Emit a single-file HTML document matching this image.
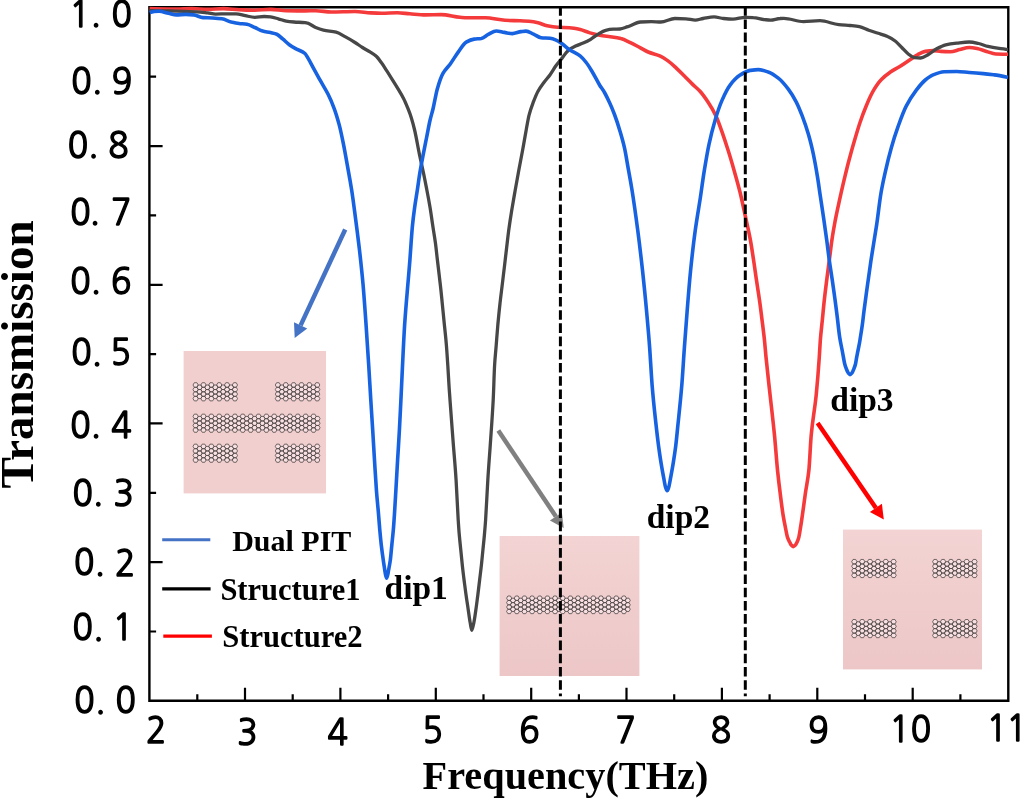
<!DOCTYPE html>
<html><head><meta charset="utf-8"><title>Transmission spectra</title>
<style>
html,body{margin:0;padding:0;background:#fff;}
body{width:1020px;height:798px;overflow:hidden;}
svg{display:block;}
.tl{font-family:"NanumGothic","Liberation Sans",sans-serif;font-size:36.4px;fill:#000;stroke:#000;stroke-width:1.5px;stroke-linejoin:round;}
.at{font-family:"Liberation Serif","Times New Roman",serif;font-weight:bold;font-size:40.3px;fill:#000;}
.at2{font-family:"Liberation Serif","Times New Roman",serif;font-weight:bold;font-size:47px;fill:#000;}
.lg{font-family:"Liberation Serif","Times New Roman",serif;font-weight:bold;font-size:30px;fill:#000;}
.dp{font-family:"Liberation Serif","Times New Roman",serif;font-weight:bold;font-size:33.5px;fill:#000;}
</style></head>
<body><svg width="1020" height="798" viewBox="0 0 1020 798">
<rect width="1020" height="798" fill="#fff"/>
<defs><linearGradient id="pg" x1="0" y1="0" x2="0" y2="1"><stop offset="0" stop-color="#f3d3d3"/><stop offset="1" stop-color="#edc7c7"/></linearGradient></defs>
<rect x="183.6" y="351" width="142.4" height="142.4" fill="#f2cfcf"/>
<rect x="499.6" y="536" width="139.8" height="140" fill="url(#pg)"/>
<rect x="843" y="529.6" width="139" height="139.8" fill="url(#pg)"/>
<path d="M198.24,385.00 196.93,387.27 194.31,387.27 193.00,385.00 194.31,382.73 196.93,382.73ZM198.24,389.54 196.93,391.81 194.31,391.81 193.00,389.54 194.31,387.27 196.93,387.27ZM198.24,394.08 196.93,396.34 194.31,396.34 193.00,394.08 194.31,391.81 196.93,391.81ZM198.24,398.61 196.93,400.88 194.31,400.88 193.00,398.61 194.31,396.34 196.93,396.34ZM206.10,385.00 204.79,387.27 202.17,387.27 200.86,385.00 202.17,382.73 204.79,382.73ZM206.10,389.54 204.79,391.81 202.17,391.81 200.86,389.54 202.17,387.27 204.79,387.27ZM206.10,394.08 204.79,396.34 202.17,396.34 200.86,394.08 202.17,391.81 204.79,391.81ZM206.10,398.61 204.79,400.88 202.17,400.88 200.86,398.61 202.17,396.34 204.79,396.34ZM213.96,385.00 212.65,387.27 210.03,387.27 208.72,385.00 210.03,382.73 212.65,382.73ZM213.96,389.54 212.65,391.81 210.03,391.81 208.72,389.54 210.03,387.27 212.65,387.27ZM213.96,394.08 212.65,396.34 210.03,396.34 208.72,394.08 210.03,391.81 212.65,391.81ZM213.96,398.61 212.65,400.88 210.03,400.88 208.72,398.61 210.03,396.34 212.65,396.34ZM221.82,385.00 220.51,387.27 217.89,387.27 216.58,385.00 217.89,382.73 220.51,382.73ZM221.82,389.54 220.51,391.81 217.89,391.81 216.58,389.54 217.89,387.27 220.51,387.27ZM221.82,394.08 220.51,396.34 217.89,396.34 216.58,394.08 217.89,391.81 220.51,391.81ZM221.82,398.61 220.51,400.88 217.89,400.88 216.58,398.61 217.89,396.34 220.51,396.34ZM229.68,385.00 228.37,387.27 225.75,387.27 224.44,385.00 225.75,382.73 228.37,382.73ZM229.68,389.54 228.37,391.81 225.75,391.81 224.44,389.54 225.75,387.27 228.37,387.27ZM229.68,394.08 228.37,396.34 225.75,396.34 224.44,394.08 225.75,391.81 228.37,391.81ZM229.68,398.61 228.37,400.88 225.75,400.88 224.44,398.61 225.75,396.34 228.37,396.34ZM237.54,385.00 236.23,387.27 233.61,387.27 232.30,385.00 233.61,382.73 236.23,382.73ZM237.54,389.54 236.23,391.81 233.61,391.81 232.30,389.54 233.61,387.27 236.23,387.27ZM237.54,394.08 236.23,396.34 233.61,396.34 232.30,394.08 233.61,391.81 236.23,391.81ZM237.54,398.61 236.23,400.88 233.61,400.88 232.30,398.61 233.61,396.34 236.23,396.34ZM202.17,387.27 200.86,389.54 198.24,389.54 196.93,387.27 198.24,385.00 200.86,385.00ZM202.17,391.81 200.86,394.08 198.24,394.08 196.93,391.81 198.24,389.54 200.86,389.54ZM202.17,396.34 200.86,398.61 198.24,398.61 196.93,396.34 198.24,394.08 200.86,394.08ZM210.03,387.27 208.72,389.54 206.10,389.54 204.79,387.27 206.10,385.00 208.72,385.00ZM210.03,391.81 208.72,394.08 206.10,394.08 204.79,391.81 206.10,389.54 208.72,389.54ZM210.03,396.34 208.72,398.61 206.10,398.61 204.79,396.34 206.10,394.08 208.72,394.08ZM217.89,387.27 216.58,389.54 213.96,389.54 212.65,387.27 213.96,385.00 216.58,385.00ZM217.89,391.81 216.58,394.08 213.96,394.08 212.65,391.81 213.96,389.54 216.58,389.54ZM217.89,396.34 216.58,398.61 213.96,398.61 212.65,396.34 213.96,394.08 216.58,394.08ZM225.75,387.27 224.44,389.54 221.82,389.54 220.51,387.27 221.82,385.00 224.44,385.00ZM225.75,391.81 224.44,394.08 221.82,394.08 220.51,391.81 221.82,389.54 224.44,389.54ZM225.75,396.34 224.44,398.61 221.82,398.61 220.51,396.34 221.82,394.08 224.44,394.08ZM233.61,387.27 232.30,389.54 229.68,389.54 228.37,387.27 229.68,385.00 232.30,385.00ZM233.61,391.81 232.30,394.08 229.68,394.08 228.37,391.81 229.68,389.54 232.30,389.54ZM233.61,396.34 232.30,398.61 229.68,398.61 228.37,396.34 229.68,394.08 232.30,394.08ZM280.54,385.00 279.23,387.27 276.61,387.27 275.30,385.00 276.61,382.73 279.23,382.73ZM280.54,389.54 279.23,391.81 276.61,391.81 275.30,389.54 276.61,387.27 279.23,387.27ZM280.54,394.08 279.23,396.34 276.61,396.34 275.30,394.08 276.61,391.81 279.23,391.81ZM280.54,398.61 279.23,400.88 276.61,400.88 275.30,398.61 276.61,396.34 279.23,396.34ZM288.40,385.00 287.09,387.27 284.47,387.27 283.16,385.00 284.47,382.73 287.09,382.73ZM288.40,389.54 287.09,391.81 284.47,391.81 283.16,389.54 284.47,387.27 287.09,387.27ZM288.40,394.08 287.09,396.34 284.47,396.34 283.16,394.08 284.47,391.81 287.09,391.81ZM288.40,398.61 287.09,400.88 284.47,400.88 283.16,398.61 284.47,396.34 287.09,396.34ZM296.26,385.00 294.95,387.27 292.33,387.27 291.02,385.00 292.33,382.73 294.95,382.73ZM296.26,389.54 294.95,391.81 292.33,391.81 291.02,389.54 292.33,387.27 294.95,387.27ZM296.26,394.08 294.95,396.34 292.33,396.34 291.02,394.08 292.33,391.81 294.95,391.81ZM296.26,398.61 294.95,400.88 292.33,400.88 291.02,398.61 292.33,396.34 294.95,396.34ZM304.12,385.00 302.81,387.27 300.19,387.27 298.88,385.00 300.19,382.73 302.81,382.73ZM304.12,389.54 302.81,391.81 300.19,391.81 298.88,389.54 300.19,387.27 302.81,387.27ZM304.12,394.08 302.81,396.34 300.19,396.34 298.88,394.08 300.19,391.81 302.81,391.81ZM304.12,398.61 302.81,400.88 300.19,400.88 298.88,398.61 300.19,396.34 302.81,396.34ZM311.98,385.00 310.67,387.27 308.05,387.27 306.74,385.00 308.05,382.73 310.67,382.73ZM311.98,389.54 310.67,391.81 308.05,391.81 306.74,389.54 308.05,387.27 310.67,387.27ZM311.98,394.08 310.67,396.34 308.05,396.34 306.74,394.08 308.05,391.81 310.67,391.81ZM311.98,398.61 310.67,400.88 308.05,400.88 306.74,398.61 308.05,396.34 310.67,396.34ZM319.84,385.00 318.53,387.27 315.91,387.27 314.60,385.00 315.91,382.73 318.53,382.73ZM319.84,389.54 318.53,391.81 315.91,391.81 314.60,389.54 315.91,387.27 318.53,387.27ZM319.84,394.08 318.53,396.34 315.91,396.34 314.60,394.08 315.91,391.81 318.53,391.81ZM319.84,398.61 318.53,400.88 315.91,400.88 314.60,398.61 315.91,396.34 318.53,396.34ZM284.47,387.27 283.16,389.54 280.54,389.54 279.23,387.27 280.54,385.00 283.16,385.00ZM284.47,391.81 283.16,394.08 280.54,394.08 279.23,391.81 280.54,389.54 283.16,389.54ZM284.47,396.34 283.16,398.61 280.54,398.61 279.23,396.34 280.54,394.08 283.16,394.08ZM292.33,387.27 291.02,389.54 288.40,389.54 287.09,387.27 288.40,385.00 291.02,385.00ZM292.33,391.81 291.02,394.08 288.40,394.08 287.09,391.81 288.40,389.54 291.02,389.54ZM292.33,396.34 291.02,398.61 288.40,398.61 287.09,396.34 288.40,394.08 291.02,394.08ZM300.19,387.27 298.88,389.54 296.26,389.54 294.95,387.27 296.26,385.00 298.88,385.00ZM300.19,391.81 298.88,394.08 296.26,394.08 294.95,391.81 296.26,389.54 298.88,389.54ZM300.19,396.34 298.88,398.61 296.26,398.61 294.95,396.34 296.26,394.08 298.88,394.08ZM308.05,387.27 306.74,389.54 304.12,389.54 302.81,387.27 304.12,385.00 306.74,385.00ZM308.05,391.81 306.74,394.08 304.12,394.08 302.81,391.81 304.12,389.54 306.74,389.54ZM308.05,396.34 306.74,398.61 304.12,398.61 302.81,396.34 304.12,394.08 306.74,394.08ZM315.91,387.27 314.60,389.54 311.98,389.54 310.67,387.27 311.98,385.00 314.60,385.00ZM315.91,391.81 314.60,394.08 311.98,394.08 310.67,391.81 311.98,389.54 314.60,389.54ZM315.91,396.34 314.60,398.61 311.98,398.61 310.67,396.34 311.98,394.08 314.60,394.08ZM198.24,416.40 196.93,418.67 194.31,418.67 193.00,416.40 194.31,414.13 196.93,414.13ZM198.24,420.94 196.93,423.21 194.31,423.21 193.00,420.94 194.31,418.67 196.93,418.67ZM198.24,425.48 196.93,427.74 194.31,427.74 193.00,425.48 194.31,423.21 196.93,423.21ZM198.24,430.01 196.93,432.28 194.31,432.28 193.00,430.01 194.31,427.74 196.93,427.74ZM206.10,416.40 204.79,418.67 202.17,418.67 200.86,416.40 202.17,414.13 204.79,414.13ZM206.10,420.94 204.79,423.21 202.17,423.21 200.86,420.94 202.17,418.67 204.79,418.67ZM206.10,425.48 204.79,427.74 202.17,427.74 200.86,425.48 202.17,423.21 204.79,423.21ZM206.10,430.01 204.79,432.28 202.17,432.28 200.86,430.01 202.17,427.74 204.79,427.74ZM213.96,416.40 212.65,418.67 210.03,418.67 208.72,416.40 210.03,414.13 212.65,414.13ZM213.96,420.94 212.65,423.21 210.03,423.21 208.72,420.94 210.03,418.67 212.65,418.67ZM213.96,425.48 212.65,427.74 210.03,427.74 208.72,425.48 210.03,423.21 212.65,423.21ZM213.96,430.01 212.65,432.28 210.03,432.28 208.72,430.01 210.03,427.74 212.65,427.74ZM221.82,416.40 220.51,418.67 217.89,418.67 216.58,416.40 217.89,414.13 220.51,414.13ZM221.82,420.94 220.51,423.21 217.89,423.21 216.58,420.94 217.89,418.67 220.51,418.67ZM221.82,425.48 220.51,427.74 217.89,427.74 216.58,425.48 217.89,423.21 220.51,423.21ZM221.82,430.01 220.51,432.28 217.89,432.28 216.58,430.01 217.89,427.74 220.51,427.74ZM229.68,416.40 228.37,418.67 225.75,418.67 224.44,416.40 225.75,414.13 228.37,414.13ZM229.68,420.94 228.37,423.21 225.75,423.21 224.44,420.94 225.75,418.67 228.37,418.67ZM229.68,425.48 228.37,427.74 225.75,427.74 224.44,425.48 225.75,423.21 228.37,423.21ZM229.68,430.01 228.37,432.28 225.75,432.28 224.44,430.01 225.75,427.74 228.37,427.74ZM237.54,416.40 236.23,418.67 233.61,418.67 232.30,416.40 233.61,414.13 236.23,414.13ZM237.54,420.94 236.23,423.21 233.61,423.21 232.30,420.94 233.61,418.67 236.23,418.67ZM237.54,425.48 236.23,427.74 233.61,427.74 232.30,425.48 233.61,423.21 236.23,423.21ZM237.54,430.01 236.23,432.28 233.61,432.28 232.30,430.01 233.61,427.74 236.23,427.74ZM245.40,416.40 244.09,418.67 241.47,418.67 240.16,416.40 241.47,414.13 244.09,414.13ZM245.40,420.94 244.09,423.21 241.47,423.21 240.16,420.94 241.47,418.67 244.09,418.67ZM245.40,425.48 244.09,427.74 241.47,427.74 240.16,425.48 241.47,423.21 244.09,423.21ZM245.40,430.01 244.09,432.28 241.47,432.28 240.16,430.01 241.47,427.74 244.09,427.74ZM253.26,416.40 251.95,418.67 249.33,418.67 248.02,416.40 249.33,414.13 251.95,414.13ZM253.26,420.94 251.95,423.21 249.33,423.21 248.02,420.94 249.33,418.67 251.95,418.67ZM253.26,425.48 251.95,427.74 249.33,427.74 248.02,425.48 249.33,423.21 251.95,423.21ZM253.26,430.01 251.95,432.28 249.33,432.28 248.02,430.01 249.33,427.74 251.95,427.74ZM261.12,416.40 259.81,418.67 257.19,418.67 255.88,416.40 257.19,414.13 259.81,414.13ZM261.12,420.94 259.81,423.21 257.19,423.21 255.88,420.94 257.19,418.67 259.81,418.67ZM261.12,425.48 259.81,427.74 257.19,427.74 255.88,425.48 257.19,423.21 259.81,423.21ZM261.12,430.01 259.81,432.28 257.19,432.28 255.88,430.01 257.19,427.74 259.81,427.74ZM268.98,416.40 267.67,418.67 265.05,418.67 263.74,416.40 265.05,414.13 267.67,414.13ZM268.98,420.94 267.67,423.21 265.05,423.21 263.74,420.94 265.05,418.67 267.67,418.67ZM268.98,425.48 267.67,427.74 265.05,427.74 263.74,425.48 265.05,423.21 267.67,423.21ZM268.98,430.01 267.67,432.28 265.05,432.28 263.74,430.01 265.05,427.74 267.67,427.74ZM276.84,416.40 275.53,418.67 272.91,418.67 271.60,416.40 272.91,414.13 275.53,414.13ZM276.84,420.94 275.53,423.21 272.91,423.21 271.60,420.94 272.91,418.67 275.53,418.67ZM276.84,425.48 275.53,427.74 272.91,427.74 271.60,425.48 272.91,423.21 275.53,423.21ZM276.84,430.01 275.53,432.28 272.91,432.28 271.60,430.01 272.91,427.74 275.53,427.74ZM284.70,416.40 283.39,418.67 280.77,418.67 279.46,416.40 280.77,414.13 283.39,414.13ZM284.70,420.94 283.39,423.21 280.77,423.21 279.46,420.94 280.77,418.67 283.39,418.67ZM284.70,425.48 283.39,427.74 280.77,427.74 279.46,425.48 280.77,423.21 283.39,423.21ZM284.70,430.01 283.39,432.28 280.77,432.28 279.46,430.01 280.77,427.74 283.39,427.74ZM292.56,416.40 291.25,418.67 288.63,418.67 287.32,416.40 288.63,414.13 291.25,414.13ZM292.56,420.94 291.25,423.21 288.63,423.21 287.32,420.94 288.63,418.67 291.25,418.67ZM292.56,425.48 291.25,427.74 288.63,427.74 287.32,425.48 288.63,423.21 291.25,423.21ZM292.56,430.01 291.25,432.28 288.63,432.28 287.32,430.01 288.63,427.74 291.25,427.74ZM300.42,416.40 299.11,418.67 296.49,418.67 295.18,416.40 296.49,414.13 299.11,414.13ZM300.42,420.94 299.11,423.21 296.49,423.21 295.18,420.94 296.49,418.67 299.11,418.67ZM300.42,425.48 299.11,427.74 296.49,427.74 295.18,425.48 296.49,423.21 299.11,423.21ZM300.42,430.01 299.11,432.28 296.49,432.28 295.18,430.01 296.49,427.74 299.11,427.74ZM308.28,416.40 306.97,418.67 304.35,418.67 303.04,416.40 304.35,414.13 306.97,414.13ZM308.28,420.94 306.97,423.21 304.35,423.21 303.04,420.94 304.35,418.67 306.97,418.67ZM308.28,425.48 306.97,427.74 304.35,427.74 303.04,425.48 304.35,423.21 306.97,423.21ZM308.28,430.01 306.97,432.28 304.35,432.28 303.04,430.01 304.35,427.74 306.97,427.74ZM316.14,416.40 314.83,418.67 312.21,418.67 310.90,416.40 312.21,414.13 314.83,414.13ZM316.14,420.94 314.83,423.21 312.21,423.21 310.90,420.94 312.21,418.67 314.83,418.67ZM316.14,425.48 314.83,427.74 312.21,427.74 310.90,425.48 312.21,423.21 314.83,423.21ZM316.14,430.01 314.83,432.28 312.21,432.28 310.90,430.01 312.21,427.74 314.83,427.74ZM202.17,418.67 200.86,420.94 198.24,420.94 196.93,418.67 198.24,416.40 200.86,416.40ZM202.17,423.21 200.86,425.48 198.24,425.48 196.93,423.21 198.24,420.94 200.86,420.94ZM202.17,427.74 200.86,430.01 198.24,430.01 196.93,427.74 198.24,425.48 200.86,425.48ZM210.03,418.67 208.72,420.94 206.10,420.94 204.79,418.67 206.10,416.40 208.72,416.40ZM210.03,423.21 208.72,425.48 206.10,425.48 204.79,423.21 206.10,420.94 208.72,420.94ZM210.03,427.74 208.72,430.01 206.10,430.01 204.79,427.74 206.10,425.48 208.72,425.48ZM217.89,418.67 216.58,420.94 213.96,420.94 212.65,418.67 213.96,416.40 216.58,416.40ZM217.89,423.21 216.58,425.48 213.96,425.48 212.65,423.21 213.96,420.94 216.58,420.94ZM217.89,427.74 216.58,430.01 213.96,430.01 212.65,427.74 213.96,425.48 216.58,425.48ZM225.75,418.67 224.44,420.94 221.82,420.94 220.51,418.67 221.82,416.40 224.44,416.40ZM225.75,423.21 224.44,425.48 221.82,425.48 220.51,423.21 221.82,420.94 224.44,420.94ZM225.75,427.74 224.44,430.01 221.82,430.01 220.51,427.74 221.82,425.48 224.44,425.48ZM233.61,418.67 232.30,420.94 229.68,420.94 228.37,418.67 229.68,416.40 232.30,416.40ZM233.61,423.21 232.30,425.48 229.68,425.48 228.37,423.21 229.68,420.94 232.30,420.94ZM233.61,427.74 232.30,430.01 229.68,430.01 228.37,427.74 229.68,425.48 232.30,425.48ZM241.47,418.67 240.16,420.94 237.54,420.94 236.23,418.67 237.54,416.40 240.16,416.40ZM241.47,423.21 240.16,425.48 237.54,425.48 236.23,423.21 237.54,420.94 240.16,420.94ZM241.47,427.74 240.16,430.01 237.54,430.01 236.23,427.74 237.54,425.48 240.16,425.48ZM249.33,418.67 248.02,420.94 245.40,420.94 244.09,418.67 245.40,416.40 248.02,416.40ZM249.33,423.21 248.02,425.48 245.40,425.48 244.09,423.21 245.40,420.94 248.02,420.94ZM249.33,427.74 248.02,430.01 245.40,430.01 244.09,427.74 245.40,425.48 248.02,425.48ZM257.19,418.67 255.88,420.94 253.26,420.94 251.95,418.67 253.26,416.40 255.88,416.40ZM257.19,423.21 255.88,425.48 253.26,425.48 251.95,423.21 253.26,420.94 255.88,420.94ZM257.19,427.74 255.88,430.01 253.26,430.01 251.95,427.74 253.26,425.48 255.88,425.48ZM265.05,418.67 263.74,420.94 261.12,420.94 259.81,418.67 261.12,416.40 263.74,416.40ZM265.05,423.21 263.74,425.48 261.12,425.48 259.81,423.21 261.12,420.94 263.74,420.94ZM265.05,427.74 263.74,430.01 261.12,430.01 259.81,427.74 261.12,425.48 263.74,425.48ZM272.91,418.67 271.60,420.94 268.98,420.94 267.67,418.67 268.98,416.40 271.60,416.40ZM272.91,423.21 271.60,425.48 268.98,425.48 267.67,423.21 268.98,420.94 271.60,420.94ZM272.91,427.74 271.60,430.01 268.98,430.01 267.67,427.74 268.98,425.48 271.60,425.48ZM280.77,418.67 279.46,420.94 276.84,420.94 275.53,418.67 276.84,416.40 279.46,416.40ZM280.77,423.21 279.46,425.48 276.84,425.48 275.53,423.21 276.84,420.94 279.46,420.94ZM280.77,427.74 279.46,430.01 276.84,430.01 275.53,427.74 276.84,425.48 279.46,425.48ZM288.63,418.67 287.32,420.94 284.70,420.94 283.39,418.67 284.70,416.40 287.32,416.40ZM288.63,423.21 287.32,425.48 284.70,425.48 283.39,423.21 284.70,420.94 287.32,420.94ZM288.63,427.74 287.32,430.01 284.70,430.01 283.39,427.74 284.70,425.48 287.32,425.48ZM296.49,418.67 295.18,420.94 292.56,420.94 291.25,418.67 292.56,416.40 295.18,416.40ZM296.49,423.21 295.18,425.48 292.56,425.48 291.25,423.21 292.56,420.94 295.18,420.94ZM296.49,427.74 295.18,430.01 292.56,430.01 291.25,427.74 292.56,425.48 295.18,425.48ZM304.35,418.67 303.04,420.94 300.42,420.94 299.11,418.67 300.42,416.40 303.04,416.40ZM304.35,423.21 303.04,425.48 300.42,425.48 299.11,423.21 300.42,420.94 303.04,420.94ZM304.35,427.74 303.04,430.01 300.42,430.01 299.11,427.74 300.42,425.48 303.04,425.48ZM312.21,418.67 310.90,420.94 308.28,420.94 306.97,418.67 308.28,416.40 310.90,416.40ZM312.21,423.21 310.90,425.48 308.28,425.48 306.97,423.21 308.28,420.94 310.90,420.94ZM312.21,427.74 310.90,430.01 308.28,430.01 306.97,427.74 308.28,425.48 310.90,425.48ZM320.07,418.67 318.76,420.94 316.14,420.94 314.83,418.67 316.14,416.40 318.76,416.40ZM320.07,423.21 318.76,425.48 316.14,425.48 314.83,423.21 316.14,420.94 318.76,420.94ZM320.07,427.74 318.76,430.01 316.14,430.01 314.83,427.74 316.14,425.48 318.76,425.48ZM198.24,446.40 196.93,448.67 194.31,448.67 193.00,446.40 194.31,444.13 196.93,444.13ZM198.24,450.94 196.93,453.21 194.31,453.21 193.00,450.94 194.31,448.67 196.93,448.67ZM198.24,455.48 196.93,457.74 194.31,457.74 193.00,455.48 194.31,453.21 196.93,453.21ZM198.24,460.01 196.93,462.28 194.31,462.28 193.00,460.01 194.31,457.74 196.93,457.74ZM206.10,446.40 204.79,448.67 202.17,448.67 200.86,446.40 202.17,444.13 204.79,444.13ZM206.10,450.94 204.79,453.21 202.17,453.21 200.86,450.94 202.17,448.67 204.79,448.67ZM206.10,455.48 204.79,457.74 202.17,457.74 200.86,455.48 202.17,453.21 204.79,453.21ZM206.10,460.01 204.79,462.28 202.17,462.28 200.86,460.01 202.17,457.74 204.79,457.74ZM213.96,446.40 212.65,448.67 210.03,448.67 208.72,446.40 210.03,444.13 212.65,444.13ZM213.96,450.94 212.65,453.21 210.03,453.21 208.72,450.94 210.03,448.67 212.65,448.67ZM213.96,455.48 212.65,457.74 210.03,457.74 208.72,455.48 210.03,453.21 212.65,453.21ZM213.96,460.01 212.65,462.28 210.03,462.28 208.72,460.01 210.03,457.74 212.65,457.74ZM221.82,446.40 220.51,448.67 217.89,448.67 216.58,446.40 217.89,444.13 220.51,444.13ZM221.82,450.94 220.51,453.21 217.89,453.21 216.58,450.94 217.89,448.67 220.51,448.67ZM221.82,455.48 220.51,457.74 217.89,457.74 216.58,455.48 217.89,453.21 220.51,453.21ZM221.82,460.01 220.51,462.28 217.89,462.28 216.58,460.01 217.89,457.74 220.51,457.74ZM229.68,446.40 228.37,448.67 225.75,448.67 224.44,446.40 225.75,444.13 228.37,444.13ZM229.68,450.94 228.37,453.21 225.75,453.21 224.44,450.94 225.75,448.67 228.37,448.67ZM229.68,455.48 228.37,457.74 225.75,457.74 224.44,455.48 225.75,453.21 228.37,453.21ZM229.68,460.01 228.37,462.28 225.75,462.28 224.44,460.01 225.75,457.74 228.37,457.74ZM237.54,446.40 236.23,448.67 233.61,448.67 232.30,446.40 233.61,444.13 236.23,444.13ZM237.54,450.94 236.23,453.21 233.61,453.21 232.30,450.94 233.61,448.67 236.23,448.67ZM237.54,455.48 236.23,457.74 233.61,457.74 232.30,455.48 233.61,453.21 236.23,453.21ZM237.54,460.01 236.23,462.28 233.61,462.28 232.30,460.01 233.61,457.74 236.23,457.74ZM202.17,448.67 200.86,450.94 198.24,450.94 196.93,448.67 198.24,446.40 200.86,446.40ZM202.17,453.21 200.86,455.48 198.24,455.48 196.93,453.21 198.24,450.94 200.86,450.94ZM202.17,457.74 200.86,460.01 198.24,460.01 196.93,457.74 198.24,455.48 200.86,455.48ZM210.03,448.67 208.72,450.94 206.10,450.94 204.79,448.67 206.10,446.40 208.72,446.40ZM210.03,453.21 208.72,455.48 206.10,455.48 204.79,453.21 206.10,450.94 208.72,450.94ZM210.03,457.74 208.72,460.01 206.10,460.01 204.79,457.74 206.10,455.48 208.72,455.48ZM217.89,448.67 216.58,450.94 213.96,450.94 212.65,448.67 213.96,446.40 216.58,446.40ZM217.89,453.21 216.58,455.48 213.96,455.48 212.65,453.21 213.96,450.94 216.58,450.94ZM217.89,457.74 216.58,460.01 213.96,460.01 212.65,457.74 213.96,455.48 216.58,455.48ZM225.75,448.67 224.44,450.94 221.82,450.94 220.51,448.67 221.82,446.40 224.44,446.40ZM225.75,453.21 224.44,455.48 221.82,455.48 220.51,453.21 221.82,450.94 224.44,450.94ZM225.75,457.74 224.44,460.01 221.82,460.01 220.51,457.74 221.82,455.48 224.44,455.48ZM233.61,448.67 232.30,450.94 229.68,450.94 228.37,448.67 229.68,446.40 232.30,446.40ZM233.61,453.21 232.30,455.48 229.68,455.48 228.37,453.21 229.68,450.94 232.30,450.94ZM233.61,457.74 232.30,460.01 229.68,460.01 228.37,457.74 229.68,455.48 232.30,455.48ZM280.54,446.40 279.23,448.67 276.61,448.67 275.30,446.40 276.61,444.13 279.23,444.13ZM280.54,450.94 279.23,453.21 276.61,453.21 275.30,450.94 276.61,448.67 279.23,448.67ZM280.54,455.48 279.23,457.74 276.61,457.74 275.30,455.48 276.61,453.21 279.23,453.21ZM280.54,460.01 279.23,462.28 276.61,462.28 275.30,460.01 276.61,457.74 279.23,457.74ZM288.40,446.40 287.09,448.67 284.47,448.67 283.16,446.40 284.47,444.13 287.09,444.13ZM288.40,450.94 287.09,453.21 284.47,453.21 283.16,450.94 284.47,448.67 287.09,448.67ZM288.40,455.48 287.09,457.74 284.47,457.74 283.16,455.48 284.47,453.21 287.09,453.21ZM288.40,460.01 287.09,462.28 284.47,462.28 283.16,460.01 284.47,457.74 287.09,457.74ZM296.26,446.40 294.95,448.67 292.33,448.67 291.02,446.40 292.33,444.13 294.95,444.13ZM296.26,450.94 294.95,453.21 292.33,453.21 291.02,450.94 292.33,448.67 294.95,448.67ZM296.26,455.48 294.95,457.74 292.33,457.74 291.02,455.48 292.33,453.21 294.95,453.21ZM296.26,460.01 294.95,462.28 292.33,462.28 291.02,460.01 292.33,457.74 294.95,457.74ZM304.12,446.40 302.81,448.67 300.19,448.67 298.88,446.40 300.19,444.13 302.81,444.13ZM304.12,450.94 302.81,453.21 300.19,453.21 298.88,450.94 300.19,448.67 302.81,448.67ZM304.12,455.48 302.81,457.74 300.19,457.74 298.88,455.48 300.19,453.21 302.81,453.21ZM304.12,460.01 302.81,462.28 300.19,462.28 298.88,460.01 300.19,457.74 302.81,457.74ZM311.98,446.40 310.67,448.67 308.05,448.67 306.74,446.40 308.05,444.13 310.67,444.13ZM311.98,450.94 310.67,453.21 308.05,453.21 306.74,450.94 308.05,448.67 310.67,448.67ZM311.98,455.48 310.67,457.74 308.05,457.74 306.74,455.48 308.05,453.21 310.67,453.21ZM311.98,460.01 310.67,462.28 308.05,462.28 306.74,460.01 308.05,457.74 310.67,457.74ZM319.84,446.40 318.53,448.67 315.91,448.67 314.60,446.40 315.91,444.13 318.53,444.13ZM319.84,450.94 318.53,453.21 315.91,453.21 314.60,450.94 315.91,448.67 318.53,448.67ZM319.84,455.48 318.53,457.74 315.91,457.74 314.60,455.48 315.91,453.21 318.53,453.21ZM319.84,460.01 318.53,462.28 315.91,462.28 314.60,460.01 315.91,457.74 318.53,457.74ZM284.47,448.67 283.16,450.94 280.54,450.94 279.23,448.67 280.54,446.40 283.16,446.40ZM284.47,453.21 283.16,455.48 280.54,455.48 279.23,453.21 280.54,450.94 283.16,450.94ZM284.47,457.74 283.16,460.01 280.54,460.01 279.23,457.74 280.54,455.48 283.16,455.48ZM292.33,448.67 291.02,450.94 288.40,450.94 287.09,448.67 288.40,446.40 291.02,446.40ZM292.33,453.21 291.02,455.48 288.40,455.48 287.09,453.21 288.40,450.94 291.02,450.94ZM292.33,457.74 291.02,460.01 288.40,460.01 287.09,457.74 288.40,455.48 291.02,455.48ZM300.19,448.67 298.88,450.94 296.26,450.94 294.95,448.67 296.26,446.40 298.88,446.40ZM300.19,453.21 298.88,455.48 296.26,455.48 294.95,453.21 296.26,450.94 298.88,450.94ZM300.19,457.74 298.88,460.01 296.26,460.01 294.95,457.74 296.26,455.48 298.88,455.48ZM308.05,448.67 306.74,450.94 304.12,450.94 302.81,448.67 304.12,446.40 306.74,446.40ZM308.05,453.21 306.74,455.48 304.12,455.48 302.81,453.21 304.12,450.94 306.74,450.94ZM308.05,457.74 306.74,460.01 304.12,460.01 302.81,457.74 304.12,455.48 306.74,455.48ZM315.91,448.67 314.60,450.94 311.98,450.94 310.67,448.67 311.98,446.40 314.60,446.40ZM315.91,453.21 314.60,455.48 311.98,455.48 310.67,453.21 311.98,450.94 314.60,450.94ZM315.91,457.74 314.60,460.01 311.98,460.01 310.67,457.74 311.98,455.48 314.60,455.48ZM511.70,598.20 510.43,600.41 507.88,600.41 506.60,598.20 507.88,595.99 510.43,595.99ZM511.70,602.62 510.43,604.83 507.88,604.83 506.60,602.62 507.88,600.41 510.43,600.41ZM511.70,607.03 510.43,609.24 507.88,609.24 506.60,607.03 507.88,604.83 510.43,604.83ZM511.70,611.45 510.43,613.66 507.88,613.66 506.60,611.45 507.88,609.24 510.43,609.24ZM519.35,598.20 518.08,600.41 515.53,600.41 514.25,598.20 515.53,595.99 518.08,595.99ZM519.35,602.62 518.08,604.83 515.53,604.83 514.25,602.62 515.53,600.41 518.08,600.41ZM519.35,607.03 518.08,609.24 515.53,609.24 514.25,607.03 515.53,604.83 518.08,604.83ZM519.35,611.45 518.08,613.66 515.53,613.66 514.25,611.45 515.53,609.24 518.08,609.24ZM527.00,598.20 525.73,600.41 523.18,600.41 521.90,598.20 523.18,595.99 525.73,595.99ZM527.00,602.62 525.73,604.83 523.18,604.83 521.90,602.62 523.18,600.41 525.73,600.41ZM527.00,607.03 525.73,609.24 523.18,609.24 521.90,607.03 523.18,604.83 525.73,604.83ZM527.00,611.45 525.73,613.66 523.18,613.66 521.90,611.45 523.18,609.24 525.73,609.24ZM534.65,598.20 533.38,600.41 530.83,600.41 529.55,598.20 530.83,595.99 533.38,595.99ZM534.65,602.62 533.38,604.83 530.83,604.83 529.55,602.62 530.83,600.41 533.38,600.41ZM534.65,607.03 533.38,609.24 530.83,609.24 529.55,607.03 530.83,604.83 533.38,604.83ZM534.65,611.45 533.38,613.66 530.83,613.66 529.55,611.45 530.83,609.24 533.38,609.24ZM542.30,598.20 541.02,600.41 538.48,600.41 537.20,598.20 538.48,595.99 541.02,595.99ZM542.30,602.62 541.02,604.83 538.48,604.83 537.20,602.62 538.48,600.41 541.02,600.41ZM542.30,607.03 541.02,609.24 538.48,609.24 537.20,607.03 538.48,604.83 541.02,604.83ZM542.30,611.45 541.02,613.66 538.48,613.66 537.20,611.45 538.48,609.24 541.02,609.24ZM549.95,598.20 548.68,600.41 546.13,600.41 544.85,598.20 546.13,595.99 548.68,595.99ZM549.95,602.62 548.68,604.83 546.13,604.83 544.85,602.62 546.13,600.41 548.68,600.41ZM549.95,607.03 548.68,609.24 546.13,609.24 544.85,607.03 546.13,604.83 548.68,604.83ZM549.95,611.45 548.68,613.66 546.13,613.66 544.85,611.45 546.13,609.24 548.68,609.24ZM557.60,598.20 556.33,600.41 553.78,600.41 552.50,598.20 553.78,595.99 556.33,595.99ZM557.60,602.62 556.33,604.83 553.78,604.83 552.50,602.62 553.78,600.41 556.33,600.41ZM557.60,607.03 556.33,609.24 553.78,609.24 552.50,607.03 553.78,604.83 556.33,604.83ZM557.60,611.45 556.33,613.66 553.78,613.66 552.50,611.45 553.78,609.24 556.33,609.24ZM565.25,598.20 563.98,600.41 561.43,600.41 560.15,598.20 561.43,595.99 563.98,595.99ZM565.25,602.62 563.98,604.83 561.43,604.83 560.15,602.62 561.43,600.41 563.98,600.41ZM565.25,607.03 563.98,609.24 561.43,609.24 560.15,607.03 561.43,604.83 563.98,604.83ZM565.25,611.45 563.98,613.66 561.43,613.66 560.15,611.45 561.43,609.24 563.98,609.24ZM572.90,598.20 571.62,600.41 569.08,600.41 567.80,598.20 569.08,595.99 571.62,595.99ZM572.90,602.62 571.62,604.83 569.08,604.83 567.80,602.62 569.08,600.41 571.62,600.41ZM572.90,607.03 571.62,609.24 569.08,609.24 567.80,607.03 569.08,604.83 571.62,604.83ZM572.90,611.45 571.62,613.66 569.08,613.66 567.80,611.45 569.08,609.24 571.62,609.24ZM580.55,598.20 579.27,600.41 576.73,600.41 575.45,598.20 576.73,595.99 579.27,595.99ZM580.55,602.62 579.27,604.83 576.73,604.83 575.45,602.62 576.73,600.41 579.27,600.41ZM580.55,607.03 579.27,609.24 576.73,609.24 575.45,607.03 576.73,604.83 579.27,604.83ZM580.55,611.45 579.27,613.66 576.73,613.66 575.45,611.45 576.73,609.24 579.27,609.24ZM588.20,598.20 586.93,600.41 584.38,600.41 583.10,598.20 584.38,595.99 586.93,595.99ZM588.20,602.62 586.93,604.83 584.38,604.83 583.10,602.62 584.38,600.41 586.93,600.41ZM588.20,607.03 586.93,609.24 584.38,609.24 583.10,607.03 584.38,604.83 586.93,604.83ZM588.20,611.45 586.93,613.66 584.38,613.66 583.10,611.45 584.38,609.24 586.93,609.24ZM595.85,598.20 594.58,600.41 592.03,600.41 590.75,598.20 592.03,595.99 594.58,595.99ZM595.85,602.62 594.58,604.83 592.03,604.83 590.75,602.62 592.03,600.41 594.58,600.41ZM595.85,607.03 594.58,609.24 592.03,609.24 590.75,607.03 592.03,604.83 594.58,604.83ZM595.85,611.45 594.58,613.66 592.03,613.66 590.75,611.45 592.03,609.24 594.58,609.24ZM603.50,598.20 602.23,600.41 599.68,600.41 598.40,598.20 599.68,595.99 602.23,595.99ZM603.50,602.62 602.23,604.83 599.68,604.83 598.40,602.62 599.68,600.41 602.23,600.41ZM603.50,607.03 602.23,609.24 599.68,609.24 598.40,607.03 599.68,604.83 602.23,604.83ZM603.50,611.45 602.23,613.66 599.68,613.66 598.40,611.45 599.68,609.24 602.23,609.24ZM611.15,598.20 609.88,600.41 607.33,600.41 606.05,598.20 607.33,595.99 609.88,595.99ZM611.15,602.62 609.88,604.83 607.33,604.83 606.05,602.62 607.33,600.41 609.88,600.41ZM611.15,607.03 609.88,609.24 607.33,609.24 606.05,607.03 607.33,604.83 609.88,604.83ZM611.15,611.45 609.88,613.66 607.33,613.66 606.05,611.45 607.33,609.24 609.88,609.24ZM618.80,598.20 617.52,600.41 614.98,600.41 613.70,598.20 614.98,595.99 617.52,595.99ZM618.80,602.62 617.52,604.83 614.98,604.83 613.70,602.62 614.98,600.41 617.52,600.41ZM618.80,607.03 617.52,609.24 614.98,609.24 613.70,607.03 614.98,604.83 617.52,604.83ZM618.80,611.45 617.52,613.66 614.98,613.66 613.70,611.45 614.98,609.24 617.52,609.24ZM626.45,598.20 625.17,600.41 622.62,600.41 621.35,598.20 622.62,595.99 625.17,595.99ZM626.45,602.62 625.17,604.83 622.62,604.83 621.35,602.62 622.62,600.41 625.17,600.41ZM626.45,607.03 625.17,609.24 622.62,609.24 621.35,607.03 622.62,604.83 625.17,604.83ZM626.45,611.45 625.17,613.66 622.62,613.66 621.35,611.45 622.62,609.24 625.17,609.24ZM515.52,600.41 514.25,602.62 511.70,602.62 510.43,600.41 511.70,598.20 514.25,598.20ZM515.52,604.83 514.25,607.03 511.70,607.03 510.43,604.83 511.70,602.62 514.25,602.62ZM515.52,609.24 514.25,611.45 511.70,611.45 510.43,609.24 511.70,607.03 514.25,607.03ZM523.17,600.41 521.90,602.62 519.35,602.62 518.08,600.41 519.35,598.20 521.90,598.20ZM523.17,604.83 521.90,607.03 519.35,607.03 518.08,604.83 519.35,602.62 521.90,602.62ZM523.17,609.24 521.90,611.45 519.35,611.45 518.08,609.24 519.35,607.03 521.90,607.03ZM530.82,600.41 529.55,602.62 527.00,602.62 525.73,600.41 527.00,598.20 529.55,598.20ZM530.82,604.83 529.55,607.03 527.00,607.03 525.73,604.83 527.00,602.62 529.55,602.62ZM530.82,609.24 529.55,611.45 527.00,611.45 525.73,609.24 527.00,607.03 529.55,607.03ZM538.48,600.41 537.20,602.62 534.65,602.62 533.38,600.41 534.65,598.20 537.20,598.20ZM538.48,604.83 537.20,607.03 534.65,607.03 533.38,604.83 534.65,602.62 537.20,602.62ZM538.48,609.24 537.20,611.45 534.65,611.45 533.38,609.24 534.65,607.03 537.20,607.03ZM546.12,600.41 544.85,602.62 542.30,602.62 541.03,600.41 542.30,598.20 544.85,598.20ZM546.12,604.83 544.85,607.03 542.30,607.03 541.03,604.83 542.30,602.62 544.85,602.62ZM546.12,609.24 544.85,611.45 542.30,611.45 541.03,609.24 542.30,607.03 544.85,607.03ZM553.77,600.41 552.50,602.62 549.95,602.62 548.68,600.41 549.95,598.20 552.50,598.20ZM553.77,604.83 552.50,607.03 549.95,607.03 548.68,604.83 549.95,602.62 552.50,602.62ZM553.77,609.24 552.50,611.45 549.95,611.45 548.68,609.24 549.95,607.03 552.50,607.03ZM561.42,600.41 560.15,602.62 557.60,602.62 556.33,600.41 557.60,598.20 560.15,598.20ZM561.42,604.83 560.15,607.03 557.60,607.03 556.33,604.83 557.60,602.62 560.15,602.62ZM561.42,609.24 560.15,611.45 557.60,611.45 556.33,609.24 557.60,607.03 560.15,607.03ZM569.07,600.41 567.80,602.62 565.25,602.62 563.98,600.41 565.25,598.20 567.80,598.20ZM569.07,604.83 567.80,607.03 565.25,607.03 563.98,604.83 565.25,602.62 567.80,602.62ZM569.07,609.24 567.80,611.45 565.25,611.45 563.98,609.24 565.25,607.03 567.80,607.03ZM576.73,600.41 575.45,602.62 572.90,602.62 571.63,600.41 572.90,598.20 575.45,598.20ZM576.73,604.83 575.45,607.03 572.90,607.03 571.63,604.83 572.90,602.62 575.45,602.62ZM576.73,609.24 575.45,611.45 572.90,611.45 571.63,609.24 572.90,607.03 575.45,607.03ZM584.38,600.41 583.10,602.62 580.55,602.62 579.28,600.41 580.55,598.20 583.10,598.20ZM584.38,604.83 583.10,607.03 580.55,607.03 579.28,604.83 580.55,602.62 583.10,602.62ZM584.38,609.24 583.10,611.45 580.55,611.45 579.28,609.24 580.55,607.03 583.10,607.03ZM592.02,600.41 590.75,602.62 588.20,602.62 586.93,600.41 588.20,598.20 590.75,598.20ZM592.02,604.83 590.75,607.03 588.20,607.03 586.93,604.83 588.20,602.62 590.75,602.62ZM592.02,609.24 590.75,611.45 588.20,611.45 586.93,609.24 588.20,607.03 590.75,607.03ZM599.67,600.41 598.40,602.62 595.85,602.62 594.58,600.41 595.85,598.20 598.40,598.20ZM599.67,604.83 598.40,607.03 595.85,607.03 594.58,604.83 595.85,602.62 598.40,602.62ZM599.67,609.24 598.40,611.45 595.85,611.45 594.58,609.24 595.85,607.03 598.40,607.03ZM607.32,600.41 606.05,602.62 603.50,602.62 602.23,600.41 603.50,598.20 606.05,598.20ZM607.32,604.83 606.05,607.03 603.50,607.03 602.23,604.83 603.50,602.62 606.05,602.62ZM607.32,609.24 606.05,611.45 603.50,611.45 602.23,609.24 603.50,607.03 606.05,607.03ZM614.97,600.41 613.70,602.62 611.15,602.62 609.88,600.41 611.15,598.20 613.70,598.20ZM614.97,604.83 613.70,607.03 611.15,607.03 609.88,604.83 611.15,602.62 613.70,602.62ZM614.97,609.24 613.70,611.45 611.15,611.45 609.88,609.24 611.15,607.03 613.70,607.03ZM622.62,600.41 621.35,602.62 618.80,602.62 617.53,600.41 618.80,598.20 621.35,598.20ZM622.62,604.83 621.35,607.03 618.80,607.03 617.53,604.83 618.80,602.62 621.35,602.62ZM622.62,609.24 621.35,611.45 618.80,611.45 617.53,609.24 618.80,607.03 621.35,607.03ZM630.27,600.41 629.00,602.62 626.45,602.62 625.18,600.41 626.45,598.20 629.00,598.20ZM630.27,604.83 629.00,607.03 626.45,607.03 625.18,604.83 626.45,602.62 629.00,602.62ZM630.27,609.24 629.00,611.45 626.45,611.45 625.18,609.24 626.45,607.03 629.00,607.03ZM856.94,561.70 855.63,563.97 853.01,563.97 851.70,561.70 853.01,559.43 855.63,559.43ZM856.94,566.24 855.63,568.51 853.01,568.51 851.70,566.24 853.01,563.97 855.63,563.97ZM856.94,570.78 855.63,573.04 853.01,573.04 851.70,570.78 853.01,568.51 855.63,568.51ZM856.94,575.31 855.63,577.58 853.01,577.58 851.70,575.31 853.01,573.04 855.63,573.04ZM864.80,561.70 863.49,563.97 860.87,563.97 859.56,561.70 860.87,559.43 863.49,559.43ZM864.80,566.24 863.49,568.51 860.87,568.51 859.56,566.24 860.87,563.97 863.49,563.97ZM864.80,570.78 863.49,573.04 860.87,573.04 859.56,570.78 860.87,568.51 863.49,568.51ZM864.80,575.31 863.49,577.58 860.87,577.58 859.56,575.31 860.87,573.04 863.49,573.04ZM872.66,561.70 871.35,563.97 868.73,563.97 867.42,561.70 868.73,559.43 871.35,559.43ZM872.66,566.24 871.35,568.51 868.73,568.51 867.42,566.24 868.73,563.97 871.35,563.97ZM872.66,570.78 871.35,573.04 868.73,573.04 867.42,570.78 868.73,568.51 871.35,568.51ZM872.66,575.31 871.35,577.58 868.73,577.58 867.42,575.31 868.73,573.04 871.35,573.04ZM880.52,561.70 879.21,563.97 876.59,563.97 875.28,561.70 876.59,559.43 879.21,559.43ZM880.52,566.24 879.21,568.51 876.59,568.51 875.28,566.24 876.59,563.97 879.21,563.97ZM880.52,570.78 879.21,573.04 876.59,573.04 875.28,570.78 876.59,568.51 879.21,568.51ZM880.52,575.31 879.21,577.58 876.59,577.58 875.28,575.31 876.59,573.04 879.21,573.04ZM888.38,561.70 887.07,563.97 884.45,563.97 883.14,561.70 884.45,559.43 887.07,559.43ZM888.38,566.24 887.07,568.51 884.45,568.51 883.14,566.24 884.45,563.97 887.07,563.97ZM888.38,570.78 887.07,573.04 884.45,573.04 883.14,570.78 884.45,568.51 887.07,568.51ZM888.38,575.31 887.07,577.58 884.45,577.58 883.14,575.31 884.45,573.04 887.07,573.04ZM896.24,561.70 894.93,563.97 892.31,563.97 891.00,561.70 892.31,559.43 894.93,559.43ZM896.24,566.24 894.93,568.51 892.31,568.51 891.00,566.24 892.31,563.97 894.93,563.97ZM896.24,570.78 894.93,573.04 892.31,573.04 891.00,570.78 892.31,568.51 894.93,568.51ZM896.24,575.31 894.93,577.58 892.31,577.58 891.00,575.31 892.31,573.04 894.93,573.04ZM860.87,563.97 859.56,566.24 856.94,566.24 855.63,563.97 856.94,561.70 859.56,561.70ZM860.87,568.51 859.56,570.78 856.94,570.78 855.63,568.51 856.94,566.24 859.56,566.24ZM860.87,573.04 859.56,575.31 856.94,575.31 855.63,573.04 856.94,570.78 859.56,570.78ZM868.73,563.97 867.42,566.24 864.80,566.24 863.49,563.97 864.80,561.70 867.42,561.70ZM868.73,568.51 867.42,570.78 864.80,570.78 863.49,568.51 864.80,566.24 867.42,566.24ZM868.73,573.04 867.42,575.31 864.80,575.31 863.49,573.04 864.80,570.78 867.42,570.78ZM876.59,563.97 875.28,566.24 872.66,566.24 871.35,563.97 872.66,561.70 875.28,561.70ZM876.59,568.51 875.28,570.78 872.66,570.78 871.35,568.51 872.66,566.24 875.28,566.24ZM876.59,573.04 875.28,575.31 872.66,575.31 871.35,573.04 872.66,570.78 875.28,570.78ZM884.45,563.97 883.14,566.24 880.52,566.24 879.21,563.97 880.52,561.70 883.14,561.70ZM884.45,568.51 883.14,570.78 880.52,570.78 879.21,568.51 880.52,566.24 883.14,566.24ZM884.45,573.04 883.14,575.31 880.52,575.31 879.21,573.04 880.52,570.78 883.14,570.78ZM892.31,563.97 891.00,566.24 888.38,566.24 887.07,563.97 888.38,561.70 891.00,561.70ZM892.31,568.51 891.00,570.78 888.38,570.78 887.07,568.51 888.38,566.24 891.00,566.24ZM892.31,573.04 891.00,575.31 888.38,575.31 887.07,573.04 888.38,570.78 891.00,570.78ZM937.84,561.70 936.53,563.97 933.91,563.97 932.60,561.70 933.91,559.43 936.53,559.43ZM937.84,566.24 936.53,568.51 933.91,568.51 932.60,566.24 933.91,563.97 936.53,563.97ZM937.84,570.78 936.53,573.04 933.91,573.04 932.60,570.78 933.91,568.51 936.53,568.51ZM937.84,575.31 936.53,577.58 933.91,577.58 932.60,575.31 933.91,573.04 936.53,573.04ZM945.70,561.70 944.39,563.97 941.77,563.97 940.46,561.70 941.77,559.43 944.39,559.43ZM945.70,566.24 944.39,568.51 941.77,568.51 940.46,566.24 941.77,563.97 944.39,563.97ZM945.70,570.78 944.39,573.04 941.77,573.04 940.46,570.78 941.77,568.51 944.39,568.51ZM945.70,575.31 944.39,577.58 941.77,577.58 940.46,575.31 941.77,573.04 944.39,573.04ZM953.56,561.70 952.25,563.97 949.63,563.97 948.32,561.70 949.63,559.43 952.25,559.43ZM953.56,566.24 952.25,568.51 949.63,568.51 948.32,566.24 949.63,563.97 952.25,563.97ZM953.56,570.78 952.25,573.04 949.63,573.04 948.32,570.78 949.63,568.51 952.25,568.51ZM953.56,575.31 952.25,577.58 949.63,577.58 948.32,575.31 949.63,573.04 952.25,573.04ZM961.42,561.70 960.11,563.97 957.49,563.97 956.18,561.70 957.49,559.43 960.11,559.43ZM961.42,566.24 960.11,568.51 957.49,568.51 956.18,566.24 957.49,563.97 960.11,563.97ZM961.42,570.78 960.11,573.04 957.49,573.04 956.18,570.78 957.49,568.51 960.11,568.51ZM961.42,575.31 960.11,577.58 957.49,577.58 956.18,575.31 957.49,573.04 960.11,573.04ZM969.28,561.70 967.97,563.97 965.35,563.97 964.04,561.70 965.35,559.43 967.97,559.43ZM969.28,566.24 967.97,568.51 965.35,568.51 964.04,566.24 965.35,563.97 967.97,563.97ZM969.28,570.78 967.97,573.04 965.35,573.04 964.04,570.78 965.35,568.51 967.97,568.51ZM969.28,575.31 967.97,577.58 965.35,577.58 964.04,575.31 965.35,573.04 967.97,573.04ZM977.14,561.70 975.83,563.97 973.21,563.97 971.90,561.70 973.21,559.43 975.83,559.43ZM977.14,566.24 975.83,568.51 973.21,568.51 971.90,566.24 973.21,563.97 975.83,563.97ZM977.14,570.78 975.83,573.04 973.21,573.04 971.90,570.78 973.21,568.51 975.83,568.51ZM977.14,575.31 975.83,577.58 973.21,577.58 971.90,575.31 973.21,573.04 975.83,573.04ZM941.77,563.97 940.46,566.24 937.84,566.24 936.53,563.97 937.84,561.70 940.46,561.70ZM941.77,568.51 940.46,570.78 937.84,570.78 936.53,568.51 937.84,566.24 940.46,566.24ZM941.77,573.04 940.46,575.31 937.84,575.31 936.53,573.04 937.84,570.78 940.46,570.78ZM949.63,563.97 948.32,566.24 945.70,566.24 944.39,563.97 945.70,561.70 948.32,561.70ZM949.63,568.51 948.32,570.78 945.70,570.78 944.39,568.51 945.70,566.24 948.32,566.24ZM949.63,573.04 948.32,575.31 945.70,575.31 944.39,573.04 945.70,570.78 948.32,570.78ZM957.49,563.97 956.18,566.24 953.56,566.24 952.25,563.97 953.56,561.70 956.18,561.70ZM957.49,568.51 956.18,570.78 953.56,570.78 952.25,568.51 953.56,566.24 956.18,566.24ZM957.49,573.04 956.18,575.31 953.56,575.31 952.25,573.04 953.56,570.78 956.18,570.78ZM965.35,563.97 964.04,566.24 961.42,566.24 960.11,563.97 961.42,561.70 964.04,561.70ZM965.35,568.51 964.04,570.78 961.42,570.78 960.11,568.51 961.42,566.24 964.04,566.24ZM965.35,573.04 964.04,575.31 961.42,575.31 960.11,573.04 961.42,570.78 964.04,570.78ZM973.21,563.97 971.90,566.24 969.28,566.24 967.97,563.97 969.28,561.70 971.90,561.70ZM973.21,568.51 971.90,570.78 969.28,570.78 967.97,568.51 969.28,566.24 971.90,566.24ZM973.21,573.04 971.90,575.31 969.28,575.31 967.97,573.04 969.28,570.78 971.90,570.78ZM856.94,621.80 855.63,624.07 853.01,624.07 851.70,621.80 853.01,619.53 855.63,619.53ZM856.94,626.34 855.63,628.61 853.01,628.61 851.70,626.34 853.01,624.07 855.63,624.07ZM856.94,630.88 855.63,633.14 853.01,633.14 851.70,630.88 853.01,628.61 855.63,628.61ZM856.94,635.41 855.63,637.68 853.01,637.68 851.70,635.41 853.01,633.14 855.63,633.14ZM864.80,621.80 863.49,624.07 860.87,624.07 859.56,621.80 860.87,619.53 863.49,619.53ZM864.80,626.34 863.49,628.61 860.87,628.61 859.56,626.34 860.87,624.07 863.49,624.07ZM864.80,630.88 863.49,633.14 860.87,633.14 859.56,630.88 860.87,628.61 863.49,628.61ZM864.80,635.41 863.49,637.68 860.87,637.68 859.56,635.41 860.87,633.14 863.49,633.14ZM872.66,621.80 871.35,624.07 868.73,624.07 867.42,621.80 868.73,619.53 871.35,619.53ZM872.66,626.34 871.35,628.61 868.73,628.61 867.42,626.34 868.73,624.07 871.35,624.07ZM872.66,630.88 871.35,633.14 868.73,633.14 867.42,630.88 868.73,628.61 871.35,628.61ZM872.66,635.41 871.35,637.68 868.73,637.68 867.42,635.41 868.73,633.14 871.35,633.14ZM880.52,621.80 879.21,624.07 876.59,624.07 875.28,621.80 876.59,619.53 879.21,619.53ZM880.52,626.34 879.21,628.61 876.59,628.61 875.28,626.34 876.59,624.07 879.21,624.07ZM880.52,630.88 879.21,633.14 876.59,633.14 875.28,630.88 876.59,628.61 879.21,628.61ZM880.52,635.41 879.21,637.68 876.59,637.68 875.28,635.41 876.59,633.14 879.21,633.14ZM888.38,621.80 887.07,624.07 884.45,624.07 883.14,621.80 884.45,619.53 887.07,619.53ZM888.38,626.34 887.07,628.61 884.45,628.61 883.14,626.34 884.45,624.07 887.07,624.07ZM888.38,630.88 887.07,633.14 884.45,633.14 883.14,630.88 884.45,628.61 887.07,628.61ZM888.38,635.41 887.07,637.68 884.45,637.68 883.14,635.41 884.45,633.14 887.07,633.14ZM896.24,621.80 894.93,624.07 892.31,624.07 891.00,621.80 892.31,619.53 894.93,619.53ZM896.24,626.34 894.93,628.61 892.31,628.61 891.00,626.34 892.31,624.07 894.93,624.07ZM896.24,630.88 894.93,633.14 892.31,633.14 891.00,630.88 892.31,628.61 894.93,628.61ZM896.24,635.41 894.93,637.68 892.31,637.68 891.00,635.41 892.31,633.14 894.93,633.14ZM860.87,624.07 859.56,626.34 856.94,626.34 855.63,624.07 856.94,621.80 859.56,621.80ZM860.87,628.61 859.56,630.88 856.94,630.88 855.63,628.61 856.94,626.34 859.56,626.34ZM860.87,633.14 859.56,635.41 856.94,635.41 855.63,633.14 856.94,630.88 859.56,630.88ZM868.73,624.07 867.42,626.34 864.80,626.34 863.49,624.07 864.80,621.80 867.42,621.80ZM868.73,628.61 867.42,630.88 864.80,630.88 863.49,628.61 864.80,626.34 867.42,626.34ZM868.73,633.14 867.42,635.41 864.80,635.41 863.49,633.14 864.80,630.88 867.42,630.88ZM876.59,624.07 875.28,626.34 872.66,626.34 871.35,624.07 872.66,621.80 875.28,621.80ZM876.59,628.61 875.28,630.88 872.66,630.88 871.35,628.61 872.66,626.34 875.28,626.34ZM876.59,633.14 875.28,635.41 872.66,635.41 871.35,633.14 872.66,630.88 875.28,630.88ZM884.45,624.07 883.14,626.34 880.52,626.34 879.21,624.07 880.52,621.80 883.14,621.80ZM884.45,628.61 883.14,630.88 880.52,630.88 879.21,628.61 880.52,626.34 883.14,626.34ZM884.45,633.14 883.14,635.41 880.52,635.41 879.21,633.14 880.52,630.88 883.14,630.88ZM892.31,624.07 891.00,626.34 888.38,626.34 887.07,624.07 888.38,621.80 891.00,621.80ZM892.31,628.61 891.00,630.88 888.38,630.88 887.07,628.61 888.38,626.34 891.00,626.34ZM892.31,633.14 891.00,635.41 888.38,635.41 887.07,633.14 888.38,630.88 891.00,630.88ZM937.84,621.80 936.53,624.07 933.91,624.07 932.60,621.80 933.91,619.53 936.53,619.53ZM937.84,626.34 936.53,628.61 933.91,628.61 932.60,626.34 933.91,624.07 936.53,624.07ZM937.84,630.88 936.53,633.14 933.91,633.14 932.60,630.88 933.91,628.61 936.53,628.61ZM937.84,635.41 936.53,637.68 933.91,637.68 932.60,635.41 933.91,633.14 936.53,633.14ZM945.70,621.80 944.39,624.07 941.77,624.07 940.46,621.80 941.77,619.53 944.39,619.53ZM945.70,626.34 944.39,628.61 941.77,628.61 940.46,626.34 941.77,624.07 944.39,624.07ZM945.70,630.88 944.39,633.14 941.77,633.14 940.46,630.88 941.77,628.61 944.39,628.61ZM945.70,635.41 944.39,637.68 941.77,637.68 940.46,635.41 941.77,633.14 944.39,633.14ZM953.56,621.80 952.25,624.07 949.63,624.07 948.32,621.80 949.63,619.53 952.25,619.53ZM953.56,626.34 952.25,628.61 949.63,628.61 948.32,626.34 949.63,624.07 952.25,624.07ZM953.56,630.88 952.25,633.14 949.63,633.14 948.32,630.88 949.63,628.61 952.25,628.61ZM953.56,635.41 952.25,637.68 949.63,637.68 948.32,635.41 949.63,633.14 952.25,633.14ZM961.42,621.80 960.11,624.07 957.49,624.07 956.18,621.80 957.49,619.53 960.11,619.53ZM961.42,626.34 960.11,628.61 957.49,628.61 956.18,626.34 957.49,624.07 960.11,624.07ZM961.42,630.88 960.11,633.14 957.49,633.14 956.18,630.88 957.49,628.61 960.11,628.61ZM961.42,635.41 960.11,637.68 957.49,637.68 956.18,635.41 957.49,633.14 960.11,633.14ZM969.28,621.80 967.97,624.07 965.35,624.07 964.04,621.80 965.35,619.53 967.97,619.53ZM969.28,626.34 967.97,628.61 965.35,628.61 964.04,626.34 965.35,624.07 967.97,624.07ZM969.28,630.88 967.97,633.14 965.35,633.14 964.04,630.88 965.35,628.61 967.97,628.61ZM969.28,635.41 967.97,637.68 965.35,637.68 964.04,635.41 965.35,633.14 967.97,633.14ZM977.14,621.80 975.83,624.07 973.21,624.07 971.90,621.80 973.21,619.53 975.83,619.53ZM977.14,626.34 975.83,628.61 973.21,628.61 971.90,626.34 973.21,624.07 975.83,624.07ZM977.14,630.88 975.83,633.14 973.21,633.14 971.90,630.88 973.21,628.61 975.83,628.61ZM977.14,635.41 975.83,637.68 973.21,637.68 971.90,635.41 973.21,633.14 975.83,633.14ZM941.77,624.07 940.46,626.34 937.84,626.34 936.53,624.07 937.84,621.80 940.46,621.80ZM941.77,628.61 940.46,630.88 937.84,630.88 936.53,628.61 937.84,626.34 940.46,626.34ZM941.77,633.14 940.46,635.41 937.84,635.41 936.53,633.14 937.84,630.88 940.46,630.88ZM949.63,624.07 948.32,626.34 945.70,626.34 944.39,624.07 945.70,621.80 948.32,621.80ZM949.63,628.61 948.32,630.88 945.70,630.88 944.39,628.61 945.70,626.34 948.32,626.34ZM949.63,633.14 948.32,635.41 945.70,635.41 944.39,633.14 945.70,630.88 948.32,630.88ZM957.49,624.07 956.18,626.34 953.56,626.34 952.25,624.07 953.56,621.80 956.18,621.80ZM957.49,628.61 956.18,630.88 953.56,630.88 952.25,628.61 953.56,626.34 956.18,626.34ZM957.49,633.14 956.18,635.41 953.56,635.41 952.25,633.14 953.56,630.88 956.18,630.88ZM965.35,624.07 964.04,626.34 961.42,626.34 960.11,624.07 961.42,621.80 964.04,621.80ZM965.35,628.61 964.04,630.88 961.42,630.88 960.11,628.61 961.42,626.34 964.04,626.34ZM965.35,633.14 964.04,635.41 961.42,635.41 960.11,633.14 961.42,630.88 964.04,630.88ZM973.21,624.07 971.90,626.34 969.28,626.34 967.97,624.07 969.28,621.80 971.90,621.80ZM973.21,628.61 971.90,630.88 969.28,630.88 967.97,628.61 969.28,626.34 971.90,626.34ZM973.21,633.14 971.90,635.41 969.28,635.41 967.97,633.14 969.28,630.88 971.90,630.88Z" fill="#f8e0e2" stroke="#504848" stroke-width="0.8"/>
<path d="M149.4,7.3H1008.3V700.8H149.4Z" fill="none" stroke="#000" stroke-width="2.4"/>
<path d="M245.0,700.8V687.8M340.4,700.8V687.8M435.8,700.8V687.8M531.2,700.8V687.8M626.5,700.8V687.8M721.9,700.8V687.8M817.3,700.8V687.8M912.7,700.8V687.8M197.3,700.8V694.3M292.7,700.8V694.3M388.1,700.8V694.3M483.5,700.8V694.3M578.9,700.8V694.3M674.2,700.8V694.3M769.6,700.8V694.3M865.0,700.8V694.3M960.4,700.8V694.3M149.6,631.5H156.1M149.6,562.1H162.6M149.6,492.8H156.1M149.6,423.4H162.6M149.6,354.1H156.1M149.6,284.8H162.6M149.6,215.4H156.1M149.6,146.1H162.6M149.6,76.7H156.1" stroke="#000" stroke-width="2.2" fill="none"/>
<path d="M149.5,8.6C158.5,9.1 167.4,9.1 176.4,9.1C181.6,9.1 186.8,8.6 192.0,8.6C197.2,8.6 202.5,9.4 207.7,9.4C212.9,9.4 218.2,8.6 223.4,8.6C228.6,8.6 233.9,9.5 239.1,9.7C244.3,9.9 249.6,10.2 254.8,10.2C260.0,10.2 265.3,9.4 270.5,9.4C275.7,9.4 281.0,10.6 286.2,10.7C292.5,10.8 298.7,10.9 305.0,10.9C308.6,10.9 312.1,10.7 315.7,10.7C320.9,10.7 326.2,12.0 331.4,12.0C339.2,12.0 347.1,11.5 354.9,11.5C360.1,11.5 365.4,12.6 370.6,12.9C374.3,13.1 377.9,13.3 381.6,13.3C386.8,13.3 392.1,12.8 397.3,12.8C401.5,12.8 405.6,13.5 409.8,13.8C415.0,14.2 420.3,14.9 425.5,14.9C430.7,14.9 436.0,14.6 441.2,14.6C447.5,14.6 453.7,16.8 460.0,17.3C462.5,17.5 465.0,17.8 467.5,17.8C473.4,17.8 479.4,17.8 485.3,17.8C491.9,17.8 498.4,20.0 505.0,20.3C510.0,20.6 515.0,20.6 520.0,20.8C523.0,20.9 526.0,21.1 529.0,21.3C532.0,21.6 535.0,22.1 538.0,22.8C541.0,23.5 544.1,25.2 547.1,25.8C550.6,26.5 554.1,27.1 557.6,27.3C561.6,27.5 565.6,27.5 569.6,27.7C573.1,27.9 576.7,28.7 580.2,29.5C583.2,30.2 586.2,31.7 589.2,32.6C592.7,33.6 596.2,34.7 599.7,35.3C603.2,35.9 606.7,36.3 610.2,36.8C613.7,37.3 617.3,37.7 620.8,38.6C623.8,39.3 626.8,40.9 629.8,42.3C633.2,43.9 636.6,45.8 640.0,47.6C642.7,49.0 645.5,50.8 648.2,52.0C652.2,53.7 656.3,54.3 660.3,56.1C663.0,57.3 665.6,59.2 668.3,61.1C671.0,63.0 673.6,65.6 676.3,68.1C679.0,70.6 681.7,73.4 684.4,76.1C687.1,78.8 689.7,81.5 692.4,84.1C694.9,86.6 697.5,88.5 700.0,91.3C702.7,94.3 705.3,98.0 708.0,102.1C710.7,106.2 713.4,110.5 716.1,116.2C718.1,120.5 720.1,126.5 722.1,132.2C724.1,137.9 726.1,144.0 728.1,150.3C730.1,156.6 732.1,163.4 734.1,170.4C736.1,177.4 738.1,184.4 740.1,192.5C741.9,199.8 743.7,208.7 745.5,217.0C747.1,224.6 748.8,231.2 750.4,240.1C751.5,245.9 752.5,253.2 753.6,260.2C754.6,266.6 755.5,273.7 756.5,280.3C757.5,287.1 758.5,293.1 759.5,300.3C760.4,306.5 761.2,313.4 762.1,320.4C762.9,326.8 763.7,332.8 764.5,340.5C765.0,345.3 765.5,351.9 766.0,357.0C767.4,371.0 768.7,382.5 770.1,395.1C771.6,408.6 773.0,420.2 774.5,435.3C775.5,445.6 776.5,460.1 777.5,470.0C778.4,478.6 779.2,485.6 780.1,492.6C781.1,500.7 782.1,508.9 783.1,515.1C783.8,519.4 784.5,522.9 785.2,526.4C786.0,530.4 786.8,535.4 787.6,537.7C788.3,539.7 789.0,540.9 789.7,542.2C790.3,543.3 790.9,544.7 791.5,545.3C792.1,545.9 792.7,546.6 793.3,546.6C793.9,546.6 794.6,545.9 795.2,545.3C795.8,544.7 796.4,543.5 797.0,542.2C797.6,541.0 798.1,539.7 798.7,537.7C799.4,535.3 800.0,530.5 800.7,526.4C801.3,522.9 801.8,519.0 802.4,515.1C803.4,508.0 804.5,499.8 805.5,492.6C806.6,484.7 807.8,480.7 808.9,470.0C809.7,462.7 810.4,443.7 811.2,435.3C812.9,417.1 814.5,411.6 816.2,395.1C817.2,384.9 818.3,371.9 819.3,357.0C819.6,352.2 820.0,344.8 820.3,340.5C821.0,331.9 821.6,327.1 822.3,320.4C823.0,313.7 823.6,306.4 824.3,300.3C825.1,293.0 825.9,286.7 826.7,280.3C827.6,273.3 828.4,266.9 829.3,260.2C830.2,253.5 831.0,245.9 831.9,240.1C833.0,232.5 834.2,226.1 835.3,220.1C836.7,212.7 838.1,206.6 839.5,200.2C841.0,193.4 842.5,186.7 844.0,180.4C845.7,173.4 847.3,166.6 849.0,160.3C850.7,154.0 852.3,148.0 854.0,142.3C856.0,135.3 858.1,128.2 860.1,122.2C862.1,116.3 864.1,111.0 866.1,106.2C868.4,100.6 870.8,95.1 873.1,91.1C875.9,86.4 878.6,82.5 881.4,79.6C884.5,76.3 887.7,74.0 890.8,71.8C893.9,69.6 897.1,68.3 900.2,66.3C903.3,64.3 906.5,62.1 909.6,60.0C912.2,58.3 914.9,56.2 917.5,54.8C920.1,53.4 922.7,51.8 925.3,51.4C927.9,51.0 930.5,50.6 933.1,50.6C935.7,50.6 938.4,51.3 941.0,51.4C944.1,51.6 947.3,51.7 950.4,51.7C953.5,51.7 956.7,50.2 959.8,49.5C962.9,48.8 966.1,47.5 969.2,47.5C971.8,47.5 974.5,48.0 977.1,48.5C980.2,49.1 983.4,50.5 986.5,51.4C989.6,52.3 992.8,53.9 995.9,54.0C999.9,54.1 1004.0,54.2 1008.0,54.2" fill="none" stroke="#f53a3c" stroke-width="3.6" stroke-linejoin="round"/>
<path d="M149.5,10.7C155.8,10.8 162.2,10.9 168.5,11.0C173.7,11.1 179.0,11.2 184.2,11.3C188.4,11.4 192.6,11.6 196.8,11.8C200.4,12.0 204.1,12.5 207.7,12.9C210.3,13.2 213.0,14.1 215.6,14.1C219.3,14.1 222.9,13.8 226.6,13.8C229.7,13.8 232.9,13.8 236.0,13.8C239.1,13.8 242.3,15.1 245.4,15.7C248.5,16.3 251.7,17.3 254.8,17.3C257.9,17.3 261.1,16.5 264.2,16.5C266.3,16.5 268.4,16.7 270.5,16.9C273.1,17.2 275.7,18.1 278.3,18.8C280.9,19.5 283.6,20.8 286.2,21.2C288.8,21.6 291.4,21.8 294.0,22.0C297.7,22.3 301.3,22.2 305.0,22.6C305.9,22.7 306.9,22.9 307.8,23.2C310.4,24.0 313.1,26.4 315.7,27.5C318.3,28.6 320.9,29.5 323.5,30.1C327.7,31.1 331.9,31.1 336.1,32.2C339.2,33.0 342.4,35.2 345.5,36.9C348.7,38.6 351.8,40.5 355.0,42.5C357.5,44.1 360.0,45.9 362.5,47.5C365.0,49.1 367.5,50.3 370.0,51.9C372.1,53.2 374.2,54.4 376.3,56.3C378.0,57.8 379.6,60.3 381.3,62.6C383.0,64.9 384.6,67.5 386.3,70.1C388.4,73.3 390.5,76.7 392.6,80.1C394.7,83.4 396.7,86.6 398.8,90.1C400.5,92.9 402.1,95.6 403.8,98.9C405.1,101.4 406.3,104.4 407.6,107.6C408.8,110.7 410.1,113.8 411.3,117.7C412.4,121.2 413.5,125.3 414.6,130.0C416.3,137.1 417.9,147.1 419.6,155.1C420.9,161.2 422.1,166.5 423.4,172.6C424.6,178.2 425.7,184.1 426.9,190.2C428.0,195.8 429.0,201.2 430.1,207.7C431.0,213.0 431.8,219.6 432.7,225.3C433.6,231.3 434.5,236.1 435.4,242.8C436.1,247.8 436.7,254.3 437.4,260.0C438.0,265.4 438.7,270.6 439.3,276.0C439.8,280.6 440.4,285.0 440.9,290.0C441.3,294.0 441.8,298.5 442.2,302.8C442.8,308.5 443.3,314.3 443.9,320.0C444.7,328.4 445.6,335.2 446.4,345.3C446.9,350.9 447.3,358.2 447.8,365.4C448.2,371.6 448.6,379.3 449.0,385.5C449.3,390.7 449.7,395.3 450.0,400.0C451.0,414.0 452.0,426.9 453.0,440.1C454.0,453.7 455.1,464.2 456.1,480.3C456.8,491.2 457.5,509.1 458.2,520.0C458.6,525.7 458.9,530.7 459.3,535.0C459.8,540.8 460.3,545.1 460.8,550.1C461.3,555.1 461.8,560.5 462.3,565.1C462.9,570.6 463.5,575.4 464.1,580.2C464.8,585.5 465.4,590.4 466.1,595.2C466.8,600.4 467.6,605.2 468.3,610.2C468.9,614.3 469.5,619.0 470.1,622.3C470.7,625.4 471.2,630.3 471.8,630.3C472.5,630.3 473.2,625.7 473.9,622.3C474.5,619.3 475.2,614.6 475.8,610.2C476.5,605.6 477.1,600.5 477.8,595.2C478.4,590.5 479.0,585.2 479.6,580.2C480.2,575.2 480.8,570.6 481.4,565.1C481.9,560.5 482.4,555.1 482.9,550.1C483.4,545.1 483.9,540.6 484.4,535.0C484.8,530.5 485.2,525.8 485.6,520.0C486.3,509.4 487.1,492.1 487.8,480.3C488.7,465.3 489.7,454.0 490.6,440.1C491.5,427.2 492.3,416.9 493.2,400.0C493.7,390.9 494.1,373.2 494.6,365.4C495.1,356.5 495.7,352.0 496.2,345.3C496.7,338.6 497.3,331.3 497.8,325.3C498.5,317.8 499.1,311.3 499.8,305.2C500.6,297.9 501.4,291.8 502.2,285.1C503.0,278.4 503.8,271.9 504.6,265.1C505.3,259.5 505.9,253.6 506.6,248.0C507.3,242.1 508.0,235.7 508.7,230.5C509.7,223.0 510.7,216.6 511.7,210.4C512.9,203.2 514.0,196.9 515.2,190.3C516.4,183.5 517.6,176.8 518.8,170.3C520.1,163.4 521.3,157.1 522.6,150.2C523.8,143.7 525.0,136.5 526.2,130.0C527.1,124.9 528.1,119.0 529.0,115.3C530.5,109.4 532.0,105.7 533.5,101.7C535.0,97.7 536.5,93.9 538.0,91.2C540.0,87.5 542.1,85.0 544.1,82.2C546.1,79.5 548.1,77.4 550.1,74.7C552.1,72.0 554.1,68.3 556.1,65.6C558.1,62.9 560.1,60.6 562.1,58.1C564.1,55.6 566.1,52.2 568.1,50.6C570.6,48.5 573.1,47.3 575.6,46.1C578.1,44.9 580.7,44.2 583.2,43.1C585.7,42.0 588.2,40.8 590.7,39.3C593.2,37.8 595.7,35.6 598.2,34.1C600.7,32.6 603.2,30.9 605.7,30.3C608.2,29.7 610.7,29.3 613.2,29.2C615.5,29.1 617.7,29.1 620.0,29.0C622.6,28.9 625.2,27.5 627.8,26.7C632.0,25.3 636.2,22.3 640.4,22.0C644.1,21.8 647.7,21.6 651.4,21.6C654.5,21.6 657.7,22.0 660.8,22.0C665.5,22.0 670.2,18.5 674.9,18.5C678.6,18.5 682.2,18.6 685.9,18.8C689.0,18.9 692.2,20.1 695.3,20.1C697.9,20.1 700.5,18.9 703.1,18.5C706.8,17.9 710.4,16.9 714.1,16.9C717.2,16.9 720.4,18.2 723.5,18.5C726.6,18.8 729.8,19.1 732.9,19.1C737.1,19.1 741.3,17.3 745.5,17.3C748.1,17.3 750.7,17.4 753.3,17.6C757.0,17.8 760.6,19.2 764.3,19.6C766.4,19.8 768.5,20.1 770.6,20.1C773.7,20.1 776.9,18.6 780.0,18.5C781.3,18.4 782.6,18.4 783.9,18.4C790.4,18.4 797.0,21.6 803.5,21.6C809.0,21.6 814.5,20.7 820.0,20.7C826.3,20.7 832.5,24.1 838.8,24.7C842.5,25.1 846.3,25.2 850.0,25.5C853.1,25.8 856.3,26.0 859.4,26.6C862.5,27.2 865.7,29.1 868.8,30.2C871.9,31.3 875.1,32.3 878.2,33.3C881.3,34.3 884.5,35.1 887.6,36.5C890.2,37.6 892.9,39.2 895.5,41.2C897.6,42.8 899.7,45.4 901.8,47.5C903.9,49.6 905.9,52.1 908.0,53.7C910.1,55.3 912.2,57.4 914.3,57.6C916.4,57.8 918.5,58.0 920.6,58.0C923.2,58.0 925.8,55.9 928.4,54.5C931.0,53.1 933.7,50.4 936.3,49.0C939.4,47.3 942.6,45.5 945.7,44.8C949.4,44.0 953.0,43.6 956.7,43.2C960.9,42.7 965.0,42.0 969.2,42.0C972.3,42.0 975.5,42.8 978.6,43.5C981.7,44.2 984.9,45.7 988.0,46.4C991.2,47.1 994.3,47.7 997.5,48.2C1001.0,48.7 1004.5,49.2 1008.0,49.6" fill="none" stroke="#474747" stroke-width="3.3" stroke-linejoin="round"/>
<path d="M149.7,12.5C152.8,11.6 156.0,11.3 159.1,11.3C162.2,11.3 165.4,12.7 168.5,13.3C171.1,13.8 173.8,14.9 176.4,14.9C179.5,14.9 182.7,14.4 185.8,14.4C188.4,14.4 191.0,14.6 193.6,14.9C196.7,15.2 199.9,17.4 203.0,17.6C206.2,17.8 209.3,17.8 212.5,18.0C215.6,18.2 218.8,18.4 221.9,18.8C225.0,19.2 228.2,21.2 231.3,22.0C233.9,22.6 236.5,23.2 239.1,23.5C241.7,23.8 244.4,23.9 247.0,24.3C249.6,24.7 252.2,26.4 254.8,27.5C257.4,28.6 260.0,30.4 262.6,31.1C265.2,31.8 267.9,32.0 270.5,32.6C272.6,33.1 274.7,33.4 276.8,34.2C278.9,35.0 280.9,37.5 283.0,39.2C285.1,41.0 287.2,43.2 289.3,44.7C291.4,46.2 293.5,47.4 295.6,48.6C298.7,50.4 301.9,50.8 305.0,53.5C306.0,54.4 307.0,56.5 308.0,58.2C310.0,61.5 312.0,65.6 314.0,69.2C316.0,72.9 318.1,76.6 320.1,80.2C322.8,85.0 325.4,88.9 328.1,94.3C330.1,98.3 332.1,102.9 334.1,108.3C335.8,112.8 337.4,118.1 339.1,124.4C340.4,129.4 341.8,135.9 343.1,142.4C344.8,150.7 346.5,160.6 348.2,170.1C349.4,176.6 350.5,182.8 351.7,190.3C352.6,196.3 353.6,203.4 354.5,210.4C355.4,216.9 356.2,223.6 357.1,230.5C357.9,236.9 358.7,243.0 359.5,250.1C360.7,260.7 361.9,271.5 363.1,285.1C364.1,296.4 365.1,311.0 366.1,325.3C367.0,337.7 367.8,351.1 368.7,365.0C369.4,376.2 370.1,388.7 370.8,400.1C371.4,410.4 372.1,419.9 372.7,430.2C373.3,439.9 373.9,450.5 374.5,460.2C375.1,470.4 375.8,481.6 376.4,490.0C377.1,499.7 377.9,506.3 378.6,515.1C379.0,519.9 379.4,525.7 379.8,530.2C380.3,535.8 380.8,540.9 381.3,545.2C382.0,551.0 382.6,555.5 383.3,560.2C383.6,562.6 384.0,564.8 384.3,567.0C384.6,569.2 385.0,572.0 385.3,573.5C385.7,575.5 386.2,578.1 386.6,578.1C387.0,578.1 387.4,576.1 387.8,574.5C388.1,573.4 388.3,571.5 388.6,570.0C389.2,566.8 389.7,564.4 390.3,560.2C390.8,556.5 391.3,550.2 391.8,545.2C392.3,540.2 392.8,536.0 393.3,530.2C393.7,525.9 394.0,520.6 394.4,515.1C394.9,507.6 395.4,498.6 395.9,490.0C396.5,480.3 397.0,469.9 397.6,460.2C398.2,449.9 398.8,441.2 399.4,430.2C399.9,421.1 400.4,410.2 400.9,400.1C402.1,375.3 403.4,344.3 404.6,325.3C405.7,308.9 406.7,298.1 407.8,285.1C408.5,276.5 409.2,269.2 409.9,260.0C410.3,254.7 410.7,248.2 411.1,242.8C411.6,236.6 412.0,230.0 412.5,225.3C413.2,218.2 413.9,212.8 414.6,207.7C415.5,201.1 416.4,196.2 417.3,190.2C418.2,184.5 419.0,177.9 419.9,172.6C421.0,166.1 422.0,160.7 423.1,155.1C424.3,149.0 425.4,143.3 426.6,137.5C427.8,131.7 428.9,125.0 430.1,120.0C431.1,115.8 432.0,113.0 433.0,109.0C434.4,103.0 435.9,94.0 437.3,89.0C439.2,82.3 441.2,76.6 443.1,73.2C445.4,69.1 447.8,67.4 450.1,64.2C452.8,60.5 455.5,55.8 458.2,52.1C460.9,48.5 463.5,43.6 466.2,42.1C468.9,40.6 471.5,39.5 474.2,39.1C476.5,38.8 478.9,38.8 481.2,38.5C483.6,38.1 485.9,35.6 488.3,34.4C491.0,33.1 493.6,31.0 496.3,31.0C499.0,31.0 501.6,32.0 504.3,32.4C507.0,32.8 509.6,33.6 512.3,33.6C515.2,33.6 518.1,32.0 521.0,31.6C522.7,31.4 524.3,31.1 526.0,31.1C528.5,31.1 531.0,33.0 533.5,34.1C536.0,35.2 538.6,37.5 541.1,37.8C544.1,38.1 547.1,38.0 550.1,38.3C552.1,38.5 554.1,39.3 556.1,40.1C558.1,40.9 560.1,42.4 562.1,43.8C564.6,45.5 567.1,48.1 569.6,49.8C573.1,52.2 576.6,53.2 580.1,55.9C582.1,57.5 584.2,59.9 586.2,62.5C588.2,65.0 590.2,68.4 592.2,71.7C594.7,75.8 597.2,81.1 599.7,85.2C601.3,87.8 602.9,89.7 604.5,92.5C606.2,95.4 607.8,98.9 609.5,102.5C611.2,106.1 612.8,110.0 614.5,114.5C616.2,119.1 618.0,124.4 619.7,130.2C621.3,135.6 623.0,141.1 624.6,148.4C625.8,153.8 627.0,161.7 628.2,168.4C629.5,175.5 630.7,182.1 632.0,190.0C633.9,201.9 635.8,215.5 637.7,230.1C639.3,242.4 640.9,255.7 642.5,270.3C643.8,282.5 645.2,295.9 646.5,310.4C647.5,321.6 648.6,333.2 649.6,347.0C650.4,358.1 651.3,374.8 652.1,385.1C653.4,401.5 654.8,413.2 656.1,425.3C656.9,432.9 657.8,440.0 658.6,446.3C659.4,452.3 660.2,457.7 661.0,462.6C662.0,468.6 662.9,473.8 663.9,478.9C664.4,481.7 665.0,485.3 665.5,487.0C666.0,488.7 666.6,490.7 667.1,490.7C667.7,490.7 668.2,488.7 668.8,487.0C669.3,485.4 669.9,481.7 670.4,478.9C671.4,473.8 672.3,468.6 673.3,462.6C674.1,457.7 674.9,452.7 675.7,446.3C676.3,441.2 677.0,434.3 677.6,428.0C679.0,414.2 680.4,402.1 681.8,385.1C682.7,374.6 683.5,359.5 684.4,347.5C685.3,334.6 686.3,322.1 687.2,310.4C688.3,296.2 689.5,281.6 690.6,270.3C692.2,254.6 693.7,241.6 695.3,230.1C697.0,217.9 698.6,209.1 700.3,198.0C701.5,189.8 702.8,180.1 704.0,172.4C705.7,162.0 707.3,152.1 709.0,144.3C711.0,134.8 713.1,127.0 715.1,120.2C717.4,112.4 719.8,105.4 722.1,100.1C724.8,94.0 727.4,88.6 730.1,85.1C733.4,80.7 736.8,77.2 740.1,75.1C743.5,73.0 746.8,70.9 750.2,70.4C752.9,70.0 755.5,69.6 758.2,69.6C761.5,69.6 764.9,70.9 768.2,72.0C771.6,73.2 774.9,75.5 778.3,78.1C781.6,80.7 785.0,84.7 788.3,89.1C791.0,92.6 793.6,96.9 796.3,102.1C798.3,106.0 800.3,111.0 802.3,116.2C804.3,121.5 806.4,127.3 808.4,134.3C810.1,140.0 811.7,146.5 813.4,154.3C814.7,160.5 816.1,168.3 817.4,176.4C818.4,182.3 819.3,189.5 820.3,196.0C821.5,204.1 822.7,211.8 823.9,220.1C824.8,226.6 825.8,233.2 826.7,240.1C827.6,246.5 828.4,254.0 829.3,260.2C830.3,267.4 831.3,273.4 832.3,280.3C833.2,286.8 834.2,293.3 835.1,300.3C835.9,306.6 836.8,313.2 837.6,320.0C838.2,325.2 838.9,331.7 839.5,336.0C839.9,338.7 840.3,340.8 840.7,343.0C841.2,345.5 841.6,347.6 842.1,350.0C842.5,352.3 843.0,354.8 843.4,357.1C843.9,359.6 844.3,362.4 844.8,364.2C845.4,366.5 846.0,368.0 846.6,369.5C847.1,370.8 847.7,372.1 848.2,372.8C848.8,373.6 849.4,374.6 850.0,374.6C850.6,374.6 851.3,373.8 851.9,373.0C852.5,372.3 853.0,370.9 853.6,369.5C854.2,368.0 854.9,366.5 855.5,364.0C855.9,362.4 856.3,359.3 856.7,357.1C857.2,354.6 857.6,352.3 858.1,350.0C858.6,347.7 859.0,345.6 859.5,343.0C859.9,340.9 860.2,338.4 860.6,336.0C861.2,332.4 861.7,329.1 862.3,325.0C862.9,320.9 863.4,315.4 864.0,311.0C864.7,305.5 865.4,300.4 866.1,295.3C867.7,283.3 869.4,271.1 871.0,260.2C872.9,247.7 874.7,237.7 876.6,225.1C878.1,215.2 879.5,201.6 881.0,193.0C882.4,184.8 883.8,178.6 885.2,172.4C887.2,163.5 889.2,155.4 891.2,148.3C893.5,140.0 895.9,132.7 898.2,126.2C900.9,118.7 903.5,111.4 906.2,106.2C909.6,99.6 912.9,94.5 916.3,90.1C919.3,86.2 922.3,82.5 925.3,80.0C927.9,77.9 930.5,75.9 933.1,74.9C936.8,73.4 940.4,72.0 944.1,71.8C948.3,71.6 952.5,71.5 956.7,71.5C960.9,71.5 965.0,72.2 969.2,72.5C973.9,72.9 978.6,73.2 983.3,73.6C987.0,73.9 990.6,74.4 994.3,74.9C998.9,75.5 1003.4,76.4 1008.0,77.3" fill="none" stroke="#1762e0" stroke-width="3.6" stroke-linejoin="round"/>
<line x1="345.2" y1="229.5" x2="300.6" y2="325.4" stroke="#4472c4" stroke-width="4.5"/><path d="M294.7,338.1 L294.0,322.3 L307.2,328.5Z" fill="#4472c4"/>
<line x1="498.3" y1="430.5" x2="555.9" y2="516.5" stroke="#808080" stroke-width="4.5"/><path d="M563.7,528.1 L549.9,520.5 L561.9,512.4Z" fill="#808080"/>
<line x1="817.6" y1="422.9" x2="875.9" y2="507.9" stroke="#ff0000" stroke-width="4.5"/><path d="M883.8,519.4 L869.9,512.0 L881.9,503.8Z" fill="#ff0000"/>
<path d="M560.4,6.18V696.2 M745.3,6.18V696.2" stroke="#000" stroke-width="3" stroke-dasharray="9.6 3.616" fill="none"/>
<text class="tl" transform="scale(0.925,1)"><tspan x="75.26" y="26.74">1</tspan><tspan x="98.12" y="25.18">.</tspan><tspan> </tspan><tspan x="120.48" y="26.60">0</tspan></text>
<text class="tl" transform="scale(0.925,1)"><tspan x="77.12" y="93.90">0</tspan><tspan x="99.52" y="92.48">.</tspan><tspan> </tspan><tspan x="120.91" y="93.79">9</tspan></text>
<text class="tl" transform="scale(0.925,1)"><tspan x="73.12" y="157.70">0</tspan><tspan x="95.31" y="156.28">.</tspan><tspan> </tspan><tspan x="117.02" y="157.59">8</tspan></text>
<text class="tl" transform="scale(0.925,1)"><tspan x="75.94" y="224.80">0</tspan><tspan x="97.04" y="223.38">.</tspan><tspan> </tspan><tspan x="119.93" y="224.94">7</tspan></text>
<text class="tl" transform="scale(0.925,1)"><tspan x="75.94" y="293.70">0</tspan><tspan x="98.22" y="292.28">.</tspan><tspan> </tspan><tspan x="120.00" y="293.59">6</tspan></text>
<text class="tl" transform="scale(0.925,1)"><tspan x="77.12" y="365.00">0</tspan><tspan x="99.31" y="363.58">.</tspan><tspan> </tspan><tspan x="119.45" y="364.89">5</tspan></text>
<text class="tl" transform="scale(0.925,1)"><tspan x="75.94" y="437.90">0</tspan><tspan x="98.12" y="436.48">.</tspan><tspan> </tspan><tspan x="120.27" y="438.04">4</tspan></text>
<text class="tl" transform="scale(0.925,1)"><tspan x="78.31" y="505.70">0</tspan><tspan x="100.49" y="504.28">.</tspan><tspan> </tspan><tspan x="122.75" y="505.58">3</tspan></text>
<text class="tl" transform="scale(0.925,1)"><tspan x="79.94" y="575.50">0</tspan><tspan x="102.44" y="574.08">.</tspan><tspan> </tspan><tspan x="124.44" y="575.64">2</tspan></text>
<text class="tl" transform="scale(0.925,1)"><tspan x="78.31" y="640.10">0</tspan><tspan x="100.93" y="638.68">.</tspan><tspan> </tspan><tspan x="121.85" y="640.24">1</tspan></text>
<text class="tl" transform="scale(0.925,1)"><tspan x="80.37" y="713.00">0</tspan><tspan x="102.87" y="711.58">.</tspan><tspan> </tspan><tspan x="124.80" y="713.00">0</tspan></text>
<text class="tl" transform="scale(0.925,1)"><tspan x="157.84" y="742.94">2</tspan></text>
<text class="tl" transform="scale(0.925,1)"><tspan x="256.59" y="744.58">3</tspan></text>
<text class="tl" transform="scale(0.925,1)"><tspan x="354.00" y="744.84">4</tspan></text>
<text class="tl" transform="scale(0.925,1)"><tspan x="456.64" y="742.69">5</tspan></text>
<text class="tl" transform="scale(0.925,1)"><tspan x="561.30" y="743.09">6</tspan></text>
<text class="tl" transform="scale(0.925,1)"><tspan x="665.34" y="742.94">7</tspan></text>
<text class="tl" transform="scale(0.925,1)"><tspan x="768.48" y="743.09">8</tspan></text>
<text class="tl" transform="scale(0.925,1)"><tspan x="873.77" y="743.09">9</tspan></text>
<text class="tl" transform="scale(0.925,1)"><tspan x="961.64" y="742.24">1</tspan><tspan x="984.58" y="742.10">0</tspan></text>
<text class="tl" transform="scale(0.925,1)"><tspan x="1066.82" y="740.94">1</tspan><tspan x="1088.23" y="740.94">1</tspan></text>
<text x="422.6" y="789.2" class="at">Frequency(THz)</text>
<text transform="translate(33,488.6) rotate(-90)" class="at2">Transmission</text>
<line x1="162.2" y1="539.7" x2="210.3" y2="539.7" stroke="#4472c4" stroke-width="3"/>
<line x1="162.2" y1="588.8" x2="210.6" y2="588.8" stroke="#000" stroke-width="3.2"/>
<line x1="163.3" y1="636.2" x2="211.9" y2="636.2" stroke="#ff0000" stroke-width="3.2"/>
<text x="232.2" y="550.6" class="lg">Dual PIT</text>
<text x="220.4" y="599.8" class="lg" style="font-size:30.5px">Structure1</text>
<text x="222.2" y="646.7" class="lg" style="font-size:30.6px">Structure2</text>
<text x="384.5" y="598.7" class="dp">dip1</text>
<text x="646.7" y="527.8" class="dp">dip2</text>
<text x="830.3" y="411.4" class="dp">dip3</text>
</svg></body></html>
